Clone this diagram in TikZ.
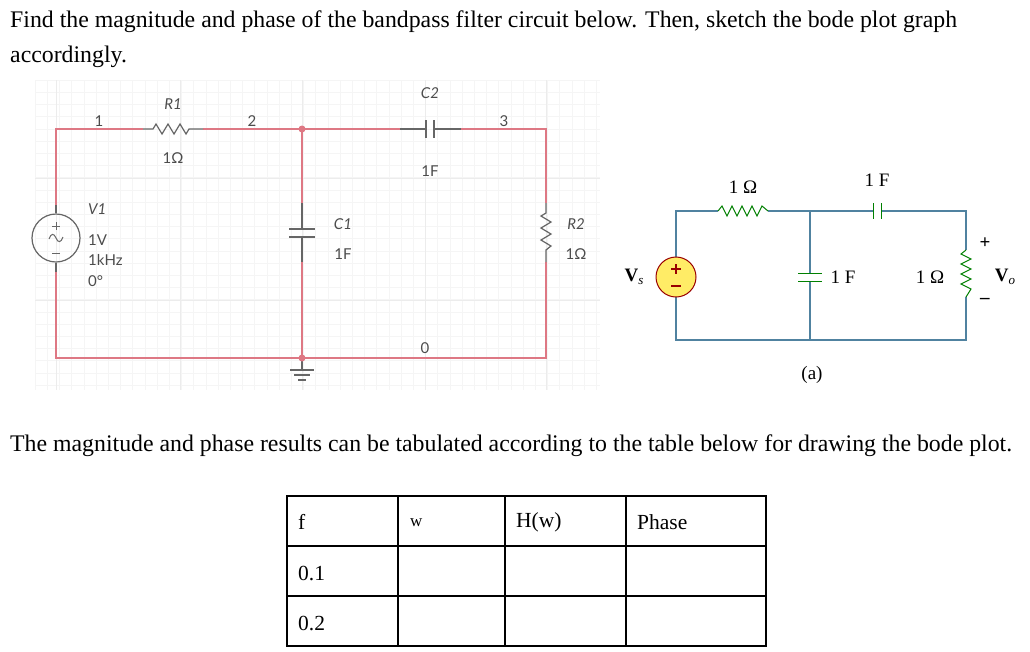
\documentclass[tikz,border=0pt]{standalone}
\usepackage{fontspec}
\setmainfont{Liberation Serif}
\newfontfamily\lato{Lato}
\definecolor{wirec}{RGB}{222,120,132}
\definecolor{bluec}{RGB}{80,130,160}
\begin{document}
\begin{tikzpicture}[x=1pt,y=-1pt,
  wire/.style={draw=wirec, line width=1.3pt},
  comp/.style={draw=gray!80!black, line width=1.2pt},
  lbl/.style={font=\lato\fontsize{15}{17}\selectfont, text=gray!60!black, inner sep=0pt},
  ilbl/.style={lbl, font=\lato\itshape\fontsize{15}{17}\selectfont},
  bw/.style={draw=bluec, line width=1.2pt},
  gw/.style={draw=green!50!black, line width=1pt},
  blbl/.style={font=\fontsize{19}{21}\selectfont, inner sep=0pt},
  big/.style={font=\fontsize{23.8}{27}\selectfont, inner sep=0pt, anchor=west},
  tt/.style={font=\fontsize{21.5}{24}\selectfont, inner sep=0pt, anchor=west}]
\useasboundingbox (0,0) rectangle (1030,651);
\fill[white] (0,0) rectangle (1030,651);
% header
\node[big] (h1) at (10,22) {Find the magnitude and phase of the bandpass filter circuit below. Then, sketch the bode plot graph};
\node[big] (h2) at (10,57) {accordingly.};
% grid
\begin{scope}
\clip (35,80) rectangle (600,390);
\foreach \i in {0,...,50} {\draw[gray!8, line width=0.5pt] (35+12.2*\i,80) -- (35+12.2*\i,390);}
\foreach \i in {0,...,30} {\draw[gray!8, line width=0.5pt] (35,80+12.2*\i) -- (600,80+12.2*\i);}
\foreach \x in {56,180,302,425,546} {\draw[gray!15, line width=0.8pt] (\x,80) -- (\x,390);}
\foreach \y in {178,300} {\draw[gray!15, line width=0.8pt] (35,\y) -- (600,\y);}
\end{scope}
% left circuit nodes
\coordinate (tl) at (56,129); \coordinate (tm) at (302,129); \coordinate (tr) at (546,129);
\coordinate (bl) at (56,358); \coordinate (bm) at (302,358); \coordinate (br) at (546,358);
\draw[wire] (56,205) -- (tl) -- (143,129);
\draw[wire] (203,129) -- (tm) -- (400,129);
\draw[wire] (461,129) -- (tr) -- (546,203);
\draw[wire] (546,262) -- (br) -- (bm) -- (bl) -- (56,272);
\draw[wire] (tm) -- (302,203); \draw[wire] (302,262) -- (bm);
% source V1
\node[draw=gray!80!black, line width=1.2pt, circle, minimum size=48pt, inner sep=0pt] (v1) at (56,238) {};
\draw[comp] (56,205) -- (v1.north); \draw[comp] (v1.south) -- (56,272);
\draw[comp, line width=1pt] (52,226) -- (60,226) (56,222) -- (56,230);
\draw[comp, line width=1pt] (52,253) -- (60,253);
\draw[comp, line width=1pt] (49,239) .. controls (51,233) and (54,233) .. (56,238) .. controls (58,243) and (61,243) .. (63,237);
% R1
\draw[comp] (143,129) -- (153,129) -- (156,124) -- (162,134) -- (168,124) -- (174,134) -- (180,124) -- (186,134) -- (189,129) -- (203,129);
% C2
\draw[comp] (400,129) -- (426,129); \draw[comp] (434,129) -- (461,129);
\draw[comp, line width=1.6pt] (426,120) -- (426,138); \draw[comp, line width=1.6pt] (434,120) -- (434,138);
% C1
\draw[comp] (302,203) -- (302,229); \draw[comp] (302,237) -- (302,262);
\draw[comp, line width=1.6pt] (289,229) -- (315,229); \draw[comp, line width=1.6pt] (289,237) -- (315,237);
% R2
\draw[comp] (546,203) -- (546,213) -- (541,216) -- (551,222) -- (541,228) -- (551,234) -- (541,240) -- (551,246) -- (546,250) -- (546,262);
% ground
\draw[comp] (302,358) -- (302,370);
\draw[comp] (290,370) -- (314,370); \draw[comp] (294,375) -- (310,375); \draw[comp] (298,380) -- (306,380);
\fill[wirec] (tm) circle (3.5pt) (bm) circle (3.5pt);
% labels
\node[ilbl] (r1l) at (173,104) {R1}; \node[lbl] (r1v) at (173,158) {1Ω};
\node[lbl] (n1) at (99,121) {1}; \node[lbl] (n2) at (252,121) {2};
\node[ilbl] (c2l) at (430,93) {C2}; \node[lbl] (c2v) at (430,171) {1F};
\node[lbl] (n3) at (504,121) {3};
\node[ilbl] (c1l) at (343,224) {C1}; \node[lbl] (c1v) at (343,254) {1F};
\node[ilbl] (r2l) at (576,224) {R2}; \node[lbl] (r2v) at (576,254) {1Ω};
\node[lbl] (n0) at (425,348) {0};
\node[ilbl, anchor=west] (v1l) at (88,209) {V1};
\node[lbl, anchor=west] (v1a) at (88,240) {1V};
\node[lbl, anchor=west] (v1b) at (88,260) {1kHz};
\node[lbl, anchor=west] (v1c) at (88,281) {0°};
% right circuit
\draw[bw] (676,257) -- (676,211) -- (718,211);
\draw[bw] (768,211) -- (873,211); \draw[bw] (881,211) -- (966,211) -- (966,250);
\draw[bw] (966,297) -- (966,340) -- (676,340) -- (676,297);
\draw[bw] (810,211) -- (810,273); \draw[bw] (810,281) -- (810,340);
\draw[gw] (718,211) -- (722,206) -- (727,216) -- (732,206) -- (737,216) -- (742,206) -- (747,216) -- (752,206) -- (757,216) -- (762,206) -- (768,211);
\draw[gw] (873,203) -- (873,219); \draw[gw] (881,203) -- (881,219);
\draw[gw] (798,273) -- (822,273); \draw[gw] (798,281) -- (822,281);
\draw[gw] (966,250) -- (961,254) -- (971,259) -- (961,264) -- (971,269) -- (961,274) -- (971,279) -- (961,284) -- (971,289) -- (966,297);
\node[circle, draw=red!60!black, fill=orange!25!yellow!60, line width=1pt, minimum size=40pt, inner sep=0pt] (vs) at (676,277) {};
\draw[red!60!black, line width=1.1pt] (671,269) -- (681,269) (676,264) -- (676,274) (671,286) -- (681,286);
\node[blbl] (vsl) at (634,277) {\textbf{V}\raisebox{-3pt}{\textit{\fontsize{13}{14}\selectfont s}}};
\node[blbl] (rl1) at (743,187) {1 Ω};
\node[blbl] (cl1) at (877,180) {1 F};
\node[blbl] (cl2) at (843,277) {1 F};
\node[blbl] (rl2) at (930,277) {1 Ω};
\node[blbl] (pl) at (985,243) {\textbf{+}};
\node[blbl] (vo) at (1005,277) {\textbf{V}\raisebox{-3pt}{\textit{\fontsize{13}{14}\selectfont o}}};
\node[blbl] (mn) at (985,301) {\textbf{--}};
\node[blbl] (al) at (812,375) {(a)};
% sentence
\node[big] (s1) at (10,446) {The magnitude and phase results can be tabulated according to the table below for drawing the bode plot.};
% table
\draw[line width=1.2pt] (287,496) rectangle (766,646);
\foreach \y in {546,596} \draw[line width=1.2pt] (287,\y) -- (766,\y);
\foreach \x in {398,505,626} \draw[line width=1.2pt] (\x,496) -- (\x,646);
\node[tt] (t1) at (298,522) {f};
\node[tt, font=\fontsize{17}{20}\selectfont] (t2) at (410,523) {w};
\node[tt] (t3) at (516,522) {H(w)};
\node[tt] (t4) at (637,522) {Phase};
\node[tt] (t5) at (298,573) {0.1};
\node[tt] (t6) at (298,623) {0.2};
\end{tikzpicture}
\end{document}
